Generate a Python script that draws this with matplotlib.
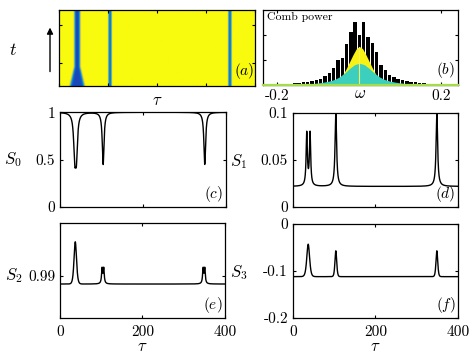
import numpy as np
import matplotlib.pyplot as plt
from matplotlib.colors import LinearSegmentedColormap

plt.rcParams['font.family'] = 'cmr10'
plt.rcParams['mathtext.fontset'] = 'cm'
plt.rcParams['axes.unicode_minus'] = False
plt.rcParams['font.size'] = 11
plt.rcParams['xtick.direction'] = 'in'
plt.rcParams['ytick.direction'] = 'in'
plt.rcParams['xtick.top'] = True
plt.rcParams['ytick.right'] = True
plt.rcParams['xtick.major.size'] = 2.5
plt.rcParams['ytick.major.size'] = 2.5
plt.rcParams['axes.linewidth'] = 0.9

# pulse positions along tau
tau_max = 400
pulse_c = [37, 104, 349]
pulse_depth = [0.93, 0.8, 0.8]
pulse_width = [6.0, 3.5, 3.5]

# Stokes components: baseline + peaks (centre, amplitude, width, shape)
s0_base = 1.0
s0_c = [35.5, 39.5, 104, 349]
s0_a = [-0.419, -0.419, -0.55, -0.55]
s0_w = [3.0, 3.0, 2.5, 2.5]
s0_k = ['lor', 'lor', 'lor', 'lor']

s1_base = 0.022
s1_c = [33.5, 41.5, 104, 349]
s1_a = [0.056, 0.056, 0.079, 0.079]
s1_w = [1.8, 1.8, 2.2, 2.2]
s1_k = ['lor', 'lor', 'lor', 'lor']

s2_base = 0.98913
s2_c = [37, 102, 106, 347, 351]
s2_a = [0.00445, 0.00158, 0.00158, 0.00158, 0.00158]
s2_w = [4.0, 1.5, 1.5, 1.5, 1.5]
s2_k = ['sech', 'lor', 'lor', 'lor', 'lor']

s3_base = -0.112
s3_c = [37, 104, 349]
s3_a = [0.069, 0.055, 0.055]
s3_w = [4.5, 2.8, 2.8]
s3_k = ['sech', 'sech', 'sech']

# spectrum (b): comb lines and envelopes
comb_dw = 0.0105
comb_h_pos = [0.66, 0.84, 0.64, 0.56, 0.44, 0.26, 0.20, 0.13, 0.11, 0.075, 0.06,
              0.05, 0.04, 0.033, 0.027, 0.022, 0.018, 0.014, 0.011, 0.009, 0.007, 0.005]
comb_h_neg = [0.84, 0.70, 0.55, 0.36, 0.33, 0.22, 0.16, 0.12, 0.085, 0.065,
              0.05, 0.04, 0.033, 0.027, 0.022, 0.018, 0.014, 0.011, 0.009, 0.007, 0.005]
yel_w = [0, 0.004, 0.008, 0.016, 0.024, 0.032, 0.040, 0.05, 0.06, 0.08, 0.1]
yel_h = [0.51, 0.50, 0.48, 0.40, 0.31, 0.22, 0.14, 0.08, 0.045, 0.015, 0.0]
cyan_w = [0, 0.012, 0.024, 0.036, 0.048, 0.06, 0.075, 0.09, 0.11, 0.14, 0.2]
cyan_h = [0.29, 0.27, 0.22, 0.16, 0.11, 0.075, 0.05, 0.035, 0.02, 0.008, 0.0]

parula = LinearSegmentedColormap.from_list('parula', [
    '#352a87', '#0363e1', '#1485d4', '#06a7c6', '#38b99e',
    '#92bf73', '#d9ba56', '#fcce2e', '#f9fb0e'])

tau = np.linspace(0, tau_max, 8001)


def stokes(base, cs, amps, ws, kinds):
    y = np.full_like(tau, base)
    for c, a, w, k in zip(cs, amps, ws, kinds):
        x = (tau - c) / w
        if k == 'lor':
            y += a / (1 + x ** 2)
        else:
            y += a / np.cosh(x) ** 2
    return y


fig = plt.figure(figsize=(4.74, 3.54), dpi=100)

# (a) space-time intensity map
ax = fig.add_axes([0.1245, 0.757, 0.4135, 0.216])
tg = np.linspace(0, 1, 150)
tt = np.linspace(0, tau_max, 800)
T, X = np.meshgrid(tg, tt, indexing='ij')
img = np.ones_like(T)
for i, (c, d, w) in enumerate(zip(pulse_c, pulse_depth, pulse_width)):
    if i == 0:
        grow = np.clip(1 - T / 0.25, 0, 1)
        w = w + 9 * grow
        img -= d * np.exp(-np.abs((X - c) / w) ** (4 + 4 * grow))
    else:
        img -= d * np.exp(-((X - c) / w) ** 4)
ax.imshow(img, extent=[0, tau_max, 0, 1], origin='lower', aspect='auto',
          cmap=parula, vmin=0, vmax=1, interpolation='bilinear')
ax.set_xticks([0, 100, 200, 300, 400])
ax.set_yticks([0.3, 0.8])
ax.set_xticklabels([])
ax.set_yticklabels([])
ax.set_xlabel(r'$\tau$', fontsize=12, labelpad=1)
ax.text(0.995, 0.06, r'$(a)$', transform=ax.transAxes, ha='right', va='bottom')
fig.text(0.028, 0.86, r'$t$', fontsize=13, ha='center', va='center')
ax.annotate('', xy=(0.1055, 0.93), xytext=(0.1055, 0.79),
            xycoords='figure fraction', textcoords='figure fraction',
            arrowprops=dict(arrowstyle='-|>', color='k', lw=1.0,
                            mutation_scale=9))

# (b) comb spectrum
ax = fig.add_axes([0.555, 0.760, 0.411, 0.212])
comb_h = comb_h_neg[::-1] + comb_h_pos
n_neg = len(comb_h_neg)
comb_w = (np.arange(len(comb_h)) - n_neg) * comb_dw
ax.bar(comb_w, comb_h, width=comb_dw * 0.8, color='k', zorder=1)
yw = np.r_[-np.array(yel_w[::-1]), yel_w[1:]]
yh = np.r_[yel_h[::-1], yel_h[1:]]
ax.fill_between(yw, 0, yh, color='#f7f214', lw=0, zorder=2)
cw = np.r_[-np.array(cyan_w[::-1]), cyan_w[1:]]
ch = np.r_[cyan_h[::-1], cyan_h[1:]]
ax.fill_between(cw, 0, ch, color='#3ccfbd', lw=0, zorder=3)
ax.plot([0, 0], [0, yel_h[0]], color='#f4f060', lw=0.8, zorder=4)
ax.axhline(0.004, color='#a6dc4a', lw=1.6, zorder=5, clip_on=False)
ax.set_xlim(-0.235, 0.24)
ax.set_ylim(0, 1)
ax.set_xticks([-0.2, 0.2])
ax.set_xticklabels(['-0.2', '0.2'])
ax.set_yticks([0.33, 0.67])
ax.set_yticklabels([])
ax.tick_params(axis='x', pad=3)
ax.set_xlabel(r'$\omega$', fontsize=12, labelpad=-12)
ax.text(0.02, 0.97, 'Comb power', transform=ax.transAxes, fontsize=8.5,
        ha='left', va='top')
ax.text(0.985, 0.06, r'$(b)$', transform=ax.transAxes, ha='right', va='bottom')

# (c)-(f) Stokes parameters
panels = [
    ([0.1266, 0.415, 0.350, 0.268], stokes(s0_base, s0_c, s0_a, s0_w, s0_k),
     (0, 1), [0, 0.5, 1], ['0', '0.5', '1'], r'$S_0$', r'$(c)$', (-0.283, 0.5)),
    ([0.618, 0.415, 0.348, 0.2655], stokes(s1_base, s1_c, s1_a, s1_w, s1_k),
     (0, 0.1), [0, 0.05, 0.1], ['0', '0.05', '0.1'], r'$S_1$', r'$(d)$', (-0.33, 0.48)),
    ([0.1266, 0.1017, 0.348, 0.268], stokes(s2_base, s2_c, s2_a, s2_w, s2_k),
     (0.98555, 0.99555), [0.99], ['0.99'], r'$S_2$', r'$(e)$', (-0.28, 0.45)),
    ([0.618, 0.1017, 0.348, 0.2655], stokes(s3_base, s3_c, s3_a, s3_w, s3_k),
     (-0.2, 0), [-0.2, -0.1, 0], ['-0.2', '-0.1', '0'], r'$S_3$', r'$(f)$', (-0.33, 0.48)),
]
for i, (pos, y, ylim, yt, ytl, lab, tag, lc) in enumerate(panels):
    ax = fig.add_axes(pos)
    ax.plot(tau, y, color='k', lw=1.0)
    ax.set_xlim(0, tau_max)
    ax.set_ylim(*ylim)
    ax.set_yticks(yt)
    ax.set_yticklabels(ytl)
    ax.set_xticks([0, 200, 400])
    if i < 2:
        ax.set_xticklabels([])
    else:
        ax.set_xticklabels(['0', '200', '400'])
        ax.tick_params(axis='x', pad=5)
        ax.set_xlabel(r'$\tau$', fontsize=12, labelpad=0)
    ax.set_ylabel(lab, rotation=0, fontsize=12, ha='center', va='center')
    ax.yaxis.set_label_coords(*lc)
    ax.text(0.985, 0.03, tag, transform=ax.transAxes, ha='right', va='bottom')

fig.savefig('out.png', dpi=100)
